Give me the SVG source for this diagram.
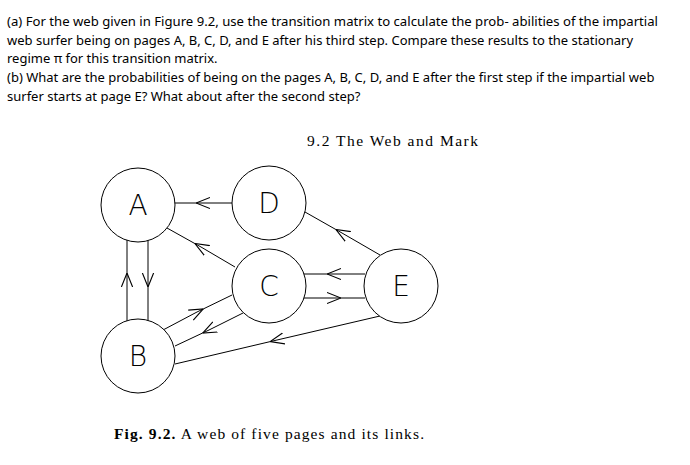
<svg xmlns="http://www.w3.org/2000/svg" width="690" height="465" viewBox="0 0 690 465">
<style>
.t{font-family:"Noto Sans",sans-serif;font-size:13px;fill:#000}
.s{font-family:"Liberation Serif",serif;font-size:15.5px;fill:#000}
.n circle{fill:#fff;stroke:#000;stroke-width:1}
.n text{font-family:"DejaVu Sans",sans-serif;font-size:28px;font-weight:300;text-anchor:middle;fill:#000}
#edges path{fill:none;stroke:#000;stroke-width:1;marker-mid:url(#ch)}
</style>
<defs>
<marker id="ch" viewBox="0 0 10 10" refX="5" refY="5" markerWidth="14" markerHeight="14" markerUnits="userSpaceOnUse" orient="auto">
<path d="M0,1 L10,5 L0,9" fill="none" stroke="#000" stroke-width="0.8"/>
</marker>
</defs>
<rect width="690" height="465" fill="#fff"/>
<text class="t" x="7" y="26" textLength="651" lengthAdjust="spacingAndGlyphs">(a) For the web given in Figure 9.2, use the transition matrix to calculate the prob- abilities of the impartial</text>
<text class="t" x="7" y="45">web surfer being on pages A, B, C, D, and E after his third step. Compare these results to the stationary</text>
<text class="t" x="7" y="63">regime π for this transition matrix.</text>
<text class="t" x="7" y="82">(b) What are the probabilities of being on the pages A, B, C, D, and E after the first step if the impartial web</text>
<text class="t" x="7" y="101">surfer starts at page E? What about after the second step?</text>
<text class="s" x="307" y="146" textLength="171" lengthAdjust="spacing">9.2 The Web and Mark</text>
<g id="edges">
<path d="M233,203 L203,203 L174,203"/>
<path d="M380,255 L342,233 L305,212"/>
<path d="M235,267 L201,247 L167,228"/>
<path d="M127,322 L127,280 L127,239"/>
<path d="M148,239 L148,280 L148,322"/>
<path d="M365,274 L334,274 L303,274"/>
<path d="M303,298 L334,298 L365,298"/>
<path d="M163,330 L197,312 L232,295"/>
<path d="M243,313 L209,330 L175,346"/>
<path d="M380,316 L277,340 L175,364"/>
</g>
<g id="A" class="n"><circle cx="138" cy="205" r="37"/><text x="138" y="215">A</text></g>
<g id="D" class="n"><circle cx="269" cy="203" r="37"/><text x="269" y="213">D</text></g>
<g id="C" class="n"><circle cx="269" cy="286" r="37"/><text x="269" y="296">C</text></g>
<g id="E" class="n"><circle cx="401" cy="286" r="37"/><text x="401" y="296">E</text></g>
<g id="B" class="n"><circle cx="138" cy="356" r="37"/><text x="138" y="366">B</text></g>
<text class="s" x="114" y="439" textLength="310" lengthAdjust="spacing"><tspan font-weight="bold">Fig. 9.2.</tspan> A web of five pages and its links.</text>
</svg>
